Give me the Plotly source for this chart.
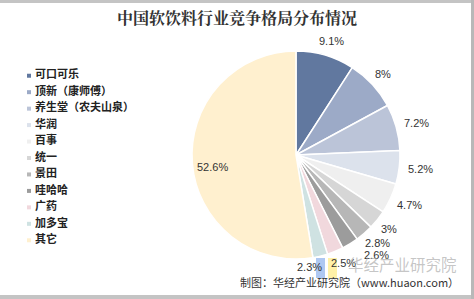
import math
import plotly.graph_objects as go

companies = ["可口可乐", "顶新（康师傅）", "养生堂（农夫山泉）", "华润", "百事", "统一",
             "景田", "哇哈哈", "广药", "加多宝", "其它"]
shares = [9.1, 8, 7.2, 5.2, 4.7, 3, 2.8, 2.6, 2.5, 2.3, 52.6]
colors = ["#61789F", "#9CAAC7", "#BBC4D8", "#DCE2EC", "#EFEFEF", "#D6D6D6",
          "#B7B7B7", "#9C9C9C", "#F1D8DD", "#CFE2E2", "#FFF0CF"]
title_text = "中国软饮料行业竞争格局分布情况"
source_text = "制图：华经产业研究院（www.huaon.com）"
watermark_text = "华经产业研究院"

W, H = 474, 299
cx, cy, r = 296, 155, 104
label_gap = 9
# label placement adjustments (degrees, pixels) to avoid collisions, like the source
label_nudge = {6: (0, -2), 7: (-6, 7), 8: (-0.5, -2), 9: (7, -6)}

fig = go.Figure()

fig.add_trace(go.Pie(
    labels=companies, values=shares, sort=False, direction="clockwise", rotation=0,
    marker=dict(colors=colors, line=dict(color="white", width=1.5)),
    textinfo="none", showlegend=False, hoverinfo="label+percent",
    domain=dict(x=[(cx - r) / W, (cx + r) / W], y=[(H - cy - r) / H, (H - cy + r) / H]),
))

# data labels computed from the slice values
annotations = []
total = sum(shares)
cum = 0.0
for i, v in enumerate(shares):
    mid = (cum + v / 2) / total * 360.0
    cum += v
    txt = f"{v:g}%"
    if i == len(shares) - 1:
        ang = math.radians(mid)
        R = 0.81 * r
        px = cx + R * math.sin(ang)
        py = cy - R * math.cos(ang) + 5
    else:
        da, dr = label_nudge.get(i, (0, 0))
        ang = math.radians(mid + da)
        ux, uy = math.sin(ang), -math.cos(ang)
        w, h = 6.2 * len(txt), 12
        R = r + label_gap + dr
        px = cx + R * ux + ux * w / 2
        py = cy + R * uy + uy * h / 2
    annotations.append(dict(
        text=txt, x=px / W, y=(H - py) / H, xref="paper", yref="paper",
        showarrow=False, xanchor="center", yanchor="middle",
        font=dict(family="Liberation Sans, Arial", size=11, color="#333333")))

# legend as small square markers with text
idx = list(range(len(companies)))
fig.add_trace(go.Scatter(
    x=[0] * len(companies), y=idx, mode="markers+text",
    marker=dict(symbol="square", size=4, color=colors),
    text=["\u00a0" + c for c in companies], textposition="middle right",
    textfont=dict(family="Noto Sans CJK SC", size=11, color="#222222", weight="bold"),
    showlegend=False, hoverinfo="skip", cliponaxis=False,
))

fig.update_xaxes(visible=False, range=[0, 1], domain=[29 / W, 0.4])
fig.update_yaxes(visible=False, range=[len(companies) - 0.5, -0.5],
                 domain=[(H - 248.5) / H, (H - 67.5) / H])

annotations += [
    dict(text=title_text, x=0.5, y=(H - 18) / H, xref="paper", yref="paper",
         showarrow=False, xanchor="center", yanchor="middle",
         font=dict(family="Noto Serif CJK SC, Noto Sans CJK SC", size=16, color="#333333", weight="bold")),
    dict(text=watermark_text, x=459 / W, y=(H - 264) / H, xref="paper", yref="paper",
         showarrow=False, xanchor="right", yanchor="middle",
         font=dict(family="Noto Sans CJK SC", size=15.5, color="rgba(160,160,160,0.6)")),
    dict(text=source_text, x=461 / W, y=(H - 282) / H, xref="paper", yref="paper",
         showarrow=False, xanchor="right", yanchor="middle",
         font=dict(family="Noto Sans CJK SC", size=11, color="#333333")),
]

fig.update_layout(
    width=W, height=H, margin=dict(l=0, r=0, t=0, b=0),
    paper_bgcolor="white", plot_bgcolor="white",
    annotations=annotations,
    shapes=[
        dict(type="rect", xref="paper", yref="paper", x0=0, x1=1, y0=(H - 3) / H, y1=1,
             fillcolor="#C4C4C4", line=dict(width=0)),
        dict(type="rect", xref="paper", yref="paper", x0=0, x1=1, y0=0, y1=4 / H,
             fillcolor="#C4C4C4", line=dict(width=0)),
        dict(type="rect", xref="paper", yref="paper", x0=(W - 3) / W, x1=1, y0=0, y1=1,
             fillcolor="#B8B8B8", line=dict(width=0)),
        dict(type="rect", xref="paper", yref="paper", layer="below",
             x0=316 / W, x1=325 / W, y0=(H - 278) / H, y1=(H - 258) / H,
             fillcolor="#AFC8F2", line=dict(width=0)),
        dict(type="rect", xref="paper", yref="paper", layer="below",
             x0=328 / W, x1=337 / W, y0=(H - 278) / H, y1=(H - 258) / H,
             fillcolor="#FFF1A8", line=dict(width=0)),
    ],
)

fig.write_html("out.html")
